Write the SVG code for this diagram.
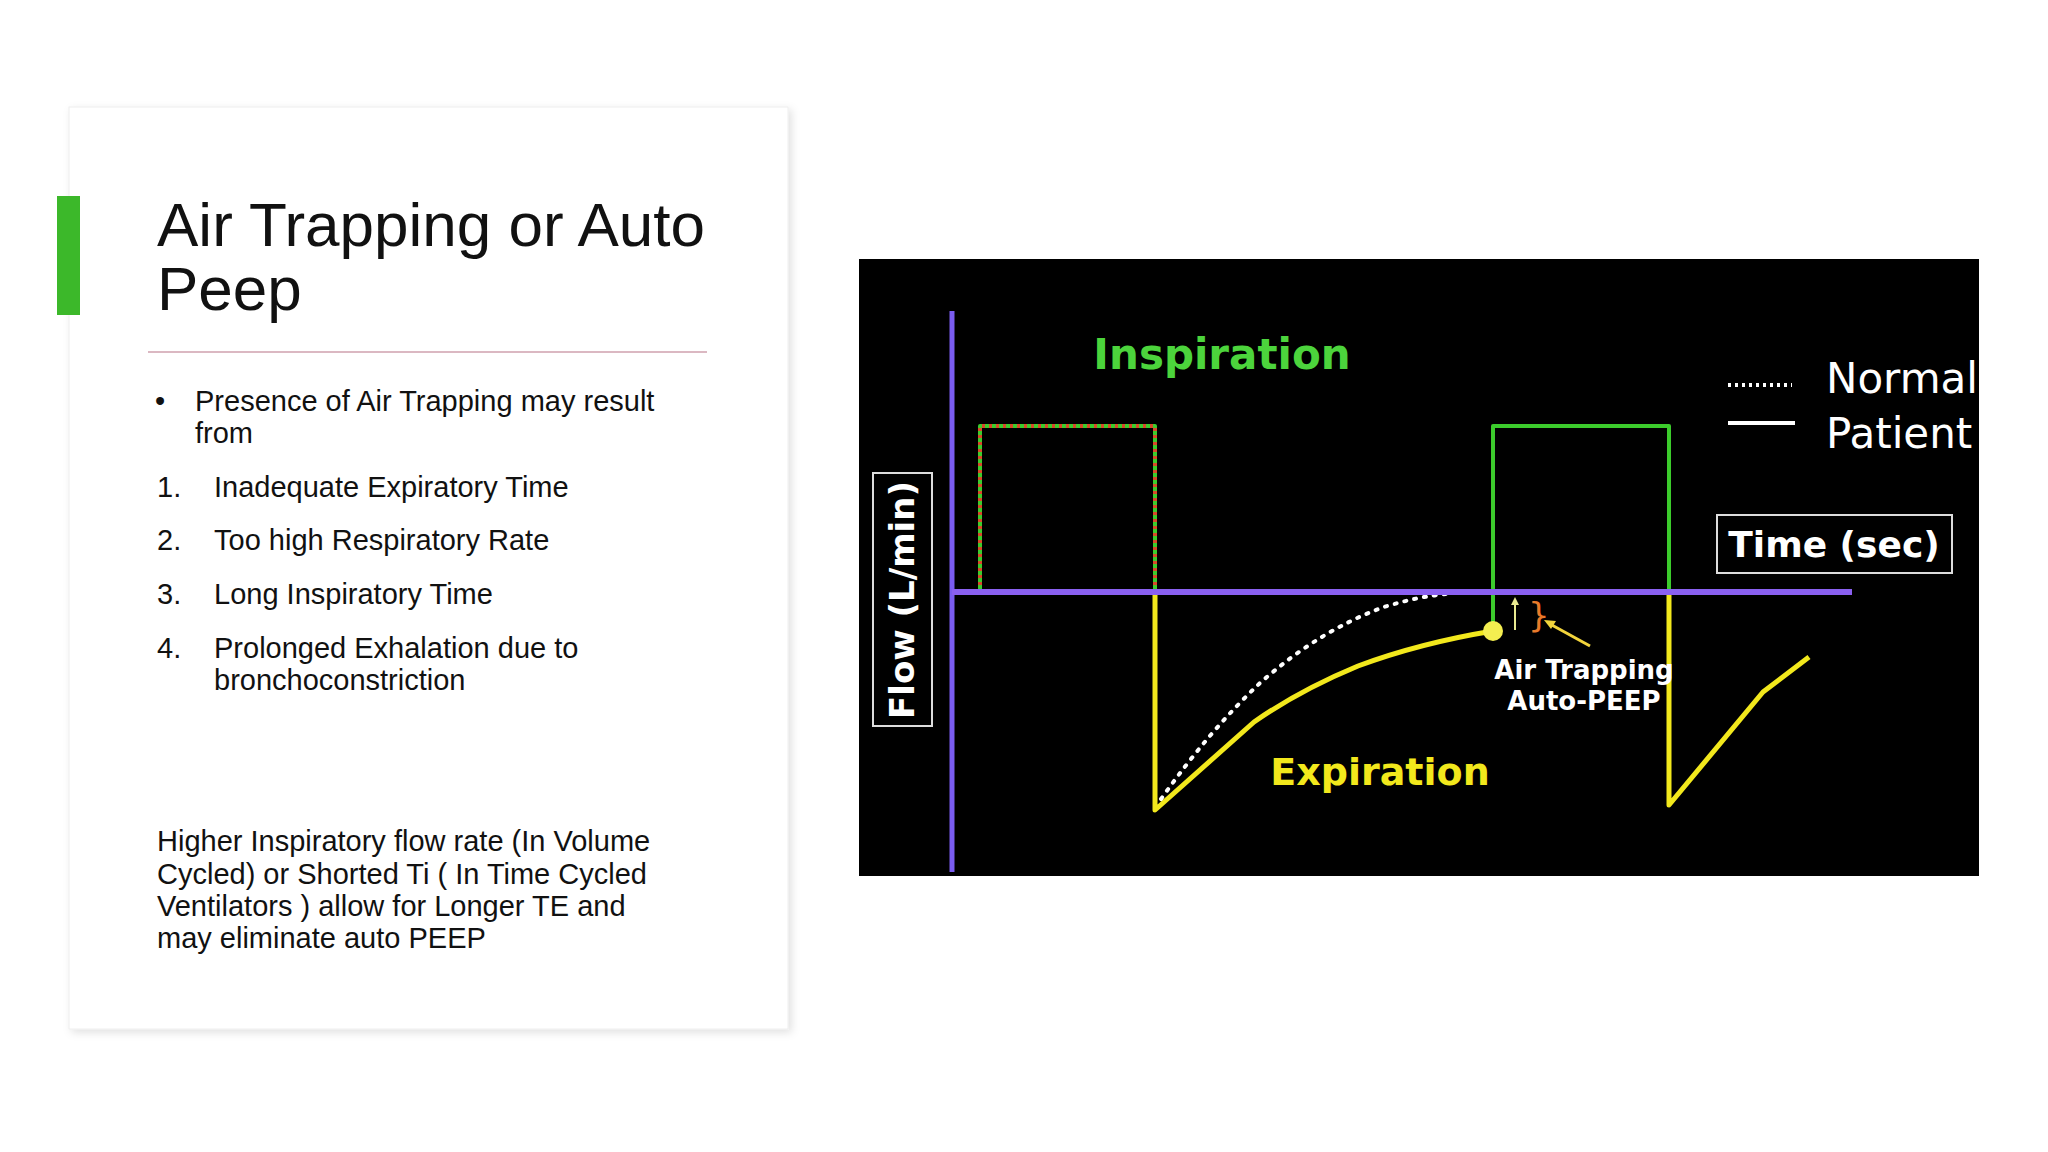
<svg xmlns="http://www.w3.org/2000/svg" width="2048" height="1152" viewBox="0 0 2048 1152">
<defs>
<filter id="sh" x="-5%" y="-5%" width="110%" height="110%"><feDropShadow dx="3" dy="3" stdDeviation="4" flood-color="#000" flood-opacity="0.12"/></filter>
</defs>
<style>
.t{font-family:"Liberation Sans",Arial,sans-serif;fill:#111}
.b{font-size:29px}
.c{font-family:"DejaVu Sans",Verdana,sans-serif;font-weight:bold}
</style>
<rect width="2048" height="1152" fill="#fff"/>
<g id="card">
<rect x="69" y="107" width="719" height="922" fill="#fff" stroke="#eee" filter="url(#sh)"/>
<rect x="57" y="196" width="23" height="119" fill="#3cb82a"/>
<text class="t" x="157" y="246" font-size="62">Air Trapping or Auto</text>
<text class="t" x="157" y="310" font-size="62">Peep</text>
<line x1="148" y1="352" x2="707" y2="352" stroke="#dbb8c2" stroke-width="2"/>
<text class="t b" x="155" y="411">•</text>
<text class="t b" x="195" y="411">Presence of Air Trapping may result</text>
<text class="t b" x="195" y="443">from</text>
<text class="t b" x="157" y="497">1.</text><text class="t b" x="214" y="497">Inadequate Expiratory Time</text>
<text class="t b" x="157" y="550">2.</text><text class="t b" x="214" y="550">Too high Respiratory Rate</text>
<text class="t b" x="157" y="604">3.</text><text class="t b" x="214" y="604">Long Inspiratory Time</text>
<text class="t b" x="157" y="658">4.</text><text class="t b" x="214" y="658">Prolonged Exhalation due to</text>
<text class="t b" x="214" y="690">bronchoconstriction</text>
<text class="t b" x="157" y="851">Higher Inspiratory flow rate (In Volume</text>
<text class="t b" x="157" y="884">Cycled) or Shorted Ti ( In Time Cycled</text>
<text class="t b" x="157" y="916">Ventilators ) allow for Longer TE and</text>
<text class="t b" x="157" y="948">may eliminate auto PEEP</text>
</g>
<g id="chart">
<rect x="859" y="259" width="1120" height="617" fill="#000"/>
<g id="connectors" fill="none" stroke-linejoin="round">
<path d="M980 592 V426 H1155 V592" stroke="#3ccc2c" stroke-width="4"/>
<path d="M980 592 V426 H1155 V592" stroke="#d84a2a" stroke-width="4" stroke-dasharray="3 4"/>
<path d="M1155 592 V810 L1254 722 Q1300 690 1358 666 Q1420 643 1493 631" stroke="#f2e81c" stroke-width="5"/>
<path d="M1161 799 Q1210 730 1260 683 Q1320 630 1384 607 Q1420 596 1447 594" stroke="#fff" stroke-width="4" stroke-dasharray="2 8" stroke-linecap="round"/>
<path d="M1493 631 V426 H1669 V592" stroke="#3ccc2c" stroke-width="4"/>
<path d="M1669 592 V805 L1763 692 L1809 657" stroke="#f2e81c" stroke-width="5"/>
<line x1="952" y1="311" x2="952" y2="872" stroke="#7a5cf0" stroke-width="5"/>
<line x1="952" y1="592" x2="1852" y2="592" stroke="#8a60f0" stroke-width="6"/>
<line x1="1515" y1="630" x2="1515" y2="602" stroke="#e8e890" stroke-width="2"/>
<path d="M1515 597 l-4 8 h8 z" fill="#e8e890"/>
<line x1="1590" y1="646" x2="1550" y2="624" stroke="#f2d43c" stroke-width="3"/>
<path d="M1544 620 l12 1 l-5 8 z" fill="#f2d43c"/>
<line x1="1728" y1="423" x2="1795" y2="423" stroke="#fff" stroke-width="4"/>
<line x1="1728" y1="385" x2="1792" y2="385" stroke="#fff" stroke-width="4" stroke-dasharray="3 4"/>
</g>
<circle cx="1493" cy="631" r="10" fill="#f4ee50"/>
<text x="1528" y="627" font-family="DejaVu Sans,sans-serif" font-size="34" fill="#e87a2a">}</text>
<g id="flow-label">
<rect x="873" y="473" width="59" height="253" fill="none" stroke="#ddd" stroke-width="2"/>
<text class="c" transform="translate(914 600) rotate(-90)" text-anchor="middle" font-size="34" fill="#fff">Flow (L/min)</text>
</g>
<text class="c" x="1222" y="369" text-anchor="middle" font-size="42" fill="#4cd43c">Inspiration</text>
<text class="c" x="1380" y="785" text-anchor="middle" font-size="38" fill="#f2e81c">Expiration</text>
<text class="c" x="1584" y="679" text-anchor="middle" font-size="26" fill="#fff">Air Trapping</text>
<text class="c" x="1584" y="710" text-anchor="middle" font-size="26" fill="#fff">Auto-PEEP</text>
<text x="1826" y="393" font-family="DejaVu Sans,sans-serif" font-size="42" fill="#fff">Normal</text>
<text x="1826" y="448" font-family="DejaVu Sans,sans-serif" font-size="42" fill="#fff">Patient</text>
<g id="time-label">
<rect x="1717" y="515" width="235" height="58" fill="none" stroke="#ddd" stroke-width="2"/>
<text class="c" x="1834" y="557" text-anchor="middle" font-size="36" fill="#fff">Time (sec)</text>
</g>
</g>
</svg>
